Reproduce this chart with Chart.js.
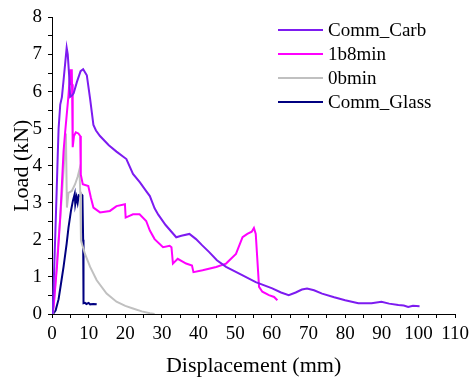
<!DOCTYPE html>
<html>
<head>
<meta charset="utf-8">
<script src="https://cdn.jsdelivr.net/npm/chart.js@4/dist/chart.umd.min.js"></script>
<style>
html,body{margin:0;padding:0;background:#fff;}
#wrap{width:474px;height:382px;position:relative;}
</style>
</head>
<body>
<div id="wrap"><canvas id="c" width="474" height="382"></canvas></div>
<script>
// Series names and colours
const seriesNames = ["Comm_Carb", "1b8min", "0bmin", "Comm_Glass"];
const seriesColors = ["#7D1BF0", "#FF00FF", "#C0C0C0", "#000080"];

// Comm_Carb: displacement (mm) / load (kN)
const carbX = [0,0.2,0.45,0.9,1.3,1.6,1.8,2.25,2.7,3.15,4.0,4.3,4.7,4.95,5.5,5.9,6.8,7.8,8.5,9.5,10.4,11.3,12,13.1,15.5,17.6,20.3,22.1,24,25.8,26.7,28,29,31,33.9,35.3,37.5,39.3,41,42.9,45,47.5,51.1,55.6,60.1,62.5,64.6,66.5,68.2,69.6,71.5,73.7,77,80,83.6,87.2,89.9,92,94.5,96,97.2,98.5,100.3];
const carbY = [0,0.1,0.8,2.15,3.4,4.4,5.0,5.65,5.85,6.3,7.18,7.0,6.4,5.86,5.9,5.95,6.26,6.55,6.6,6.44,5.8,5.1,4.95,4.8,4.55,4.38,4.18,3.78,3.55,3.3,3.18,2.85,2.68,2.4,2.07,2.11,2.16,2.02,1.85,1.67,1.45,1.27,1.09,0.86,0.69,0.58,0.51,0.58,0.66,0.69,0.64,0.55,0.45,0.37,0.29,0.29,0.33,0.28,0.24,0.23,0.19,0.22,0.21];

// 1b8min
const b18X = [0,0.45,1.35,2.25,3.15,3.6,4.5,5.0,5.2,5.4,5.5,5.6,5.7,6.0,6.5,7.2,7.7,7.86,8.4,9.9,10.6,11.3,13.1,15.8,17.6,19.9,20.1,22.1,23.9,25.7,26.7,28,30.3,32.1,32.6,33.0,34.3,36.6,38.2,38.6,41.1,44.8,47.5,50.2,52,53.3,54.5,55.1,55.6,56.5,57.4,59.2,60.6,61.5];
const b18Y = [0,0.2,1.27,2.6,4.39,4.92,5.9,6.6,6.2,6.6,5.9,6.2,4.5,4.8,4.9,4.87,4.8,3.76,3.5,3.45,3.14,2.87,2.74,2.78,2.91,2.96,2.6,2.69,2.69,2.51,2.25,2.02,1.8,1.84,1.8,1.36,1.49,1.36,1.31,1.13,1.18,1.27,1.36,1.62,2.07,2.16,2.22,2.32,2.16,0.73,0.6,0.51,0.46,0.37];

// 0bmin
const b0X = [0.3,1.2,2.0,2.7,3.3,3.8,4.07,4.5,5.4,6.3,7.0,7.5,7.7,7.9,9.0,10.4,12.2,14.9,17.6,20,22.1,24.5,26.7,28];
const b0Y = [0,1.2,2.3,3.2,4.1,4.87,2.87,3.27,3.32,3.5,3.7,3.9,3.3,1.98,1.62,1.27,0.91,0.55,0.33,0.22,0.15,0.07,0.02,0];

// Comm_Glass
const glassX = [0.3,1.0,1.8,2.5,3.15,4.0,4.5,5.2,5.7,6.2,6.35,6.7,7.0,7.3,7.7,8.0,8.3,8.5,8.6,9.0,9.4,10.0,10.4,11.3,12.2];
const glassY = [0,0.1,0.4,0.85,1.27,1.9,2.33,2.8,3.05,3.24,2.96,3.15,3.0,3.2,3.18,3.23,3.2,2.0,0.29,0.3,0.27,0.3,0.26,0.27,0.26];

// Axis tick values
const xTicks = [0,10,20,30,40,50,60,70,80,90,100,110];
const yTicks = [0,1,2,3,4,5,6,7,8];

const xsAll = [carbX, b18X, b0X, glassX];
const ysAll = [carbY, b18Y, b0Y, glassY];

const FONT = "'Liberation Serif', 'Times New Roman', serif";

const datasets = seriesNames.map((name, i) => ({
  label: name,
  data: xsAll[i].map((x, k) => ({x: x, y: ysAll[i][k]})),
  borderColor: seriesColors[i],
  backgroundColor: seriesColors[i],
  borderWidth: 2,
  pointRadius: 0,
  tension: 0,
  fill: false
}));

const legendPlugin = {
  id: 'insideLegend',
  afterDraw(chart) {
    const ctx = chart.ctx;
    ctx.save();
    ctx.font = "19px " + FONT;
    ctx.textBaseline = 'middle';
    ctx.textAlign = 'left';
    chart.data.datasets.forEach((ds, i) => {
      const y = 30 + i * 24;
      ctx.strokeStyle = ds.borderColor;
      ctx.lineWidth = 2;
      ctx.beginPath();
      ctx.moveTo(278, y);
      ctx.lineTo(323, y);
      ctx.stroke();
      ctx.fillStyle = '#000';
      ctx.fillText(ds.label, 328, y + 1);
    });
    ctx.restore();
  }
};

new Chart(document.getElementById('c'), {
  type: 'line',
  data: { datasets: datasets },
  options: {
    responsive: false,
    animation: false,
    layout: { padding: { top: 15, right: 17, left: 0, bottom: 0 } },
    plugins: { legend: { display: false }, tooltip: { enabled: false } },
    scales: {
      x: {
        type: 'linear',
        min: 0, max: 110,
        afterFit(s) { s.height = 68; },
        afterBuildTicks(s) {
          const t = [];
          for (let v = 0; v <= 110; v += 5) t.push({value: v});
          s.ticks = t;
        },
        ticks: {
          autoSkip: false, maxRotation: 0, minRotation: 0,
          padding: 5,
          color: '#000',
          font: { family: FONT, size: 19 },
          callback: (v) => xTicks.includes(v) ? String(v) : ''
        },
        grid: { display: true, drawOnChartArea: false, drawTicks: true, tickLength: 4, tickColor: '#000', tickWidth: 1 },
        border: { display: true, color: '#000', width: 1 },
        title: { display: true, text: 'Displacement (mm)', color: '#000', font: { family: FONT, size: 22 }, padding: { top: 0, bottom: 3 } }
      },
      y: {
        min: 0, max: 8,
        afterFit(s) { s.width = 52; },
        afterBuildTicks(s) {
          const t = [];
          for (let v = 0; v <= 8; v += 0.5) t.push({value: v});
          s.ticks = t;
        },
        ticks: {
          autoSkip: false,
          padding: 6,
          color: '#000',
          font: { family: FONT, size: 19 },
          callback: (v) => yTicks.includes(v) ? String(v) : ''
        },
        grid: { display: true, drawOnChartArea: false, drawTicks: true, tickLength: 4, tickColor: '#000', tickWidth: 1 },
        border: { display: true, color: '#000', width: 1 },
        title: { display: true, text: 'Load (kN)', color: '#000', font: { family: FONT, size: 22 }, padding: { top: 9, bottom: 0 } }
      }
    }
  },
  plugins: [legendPlugin]
});
</script>
</body>
</html>
